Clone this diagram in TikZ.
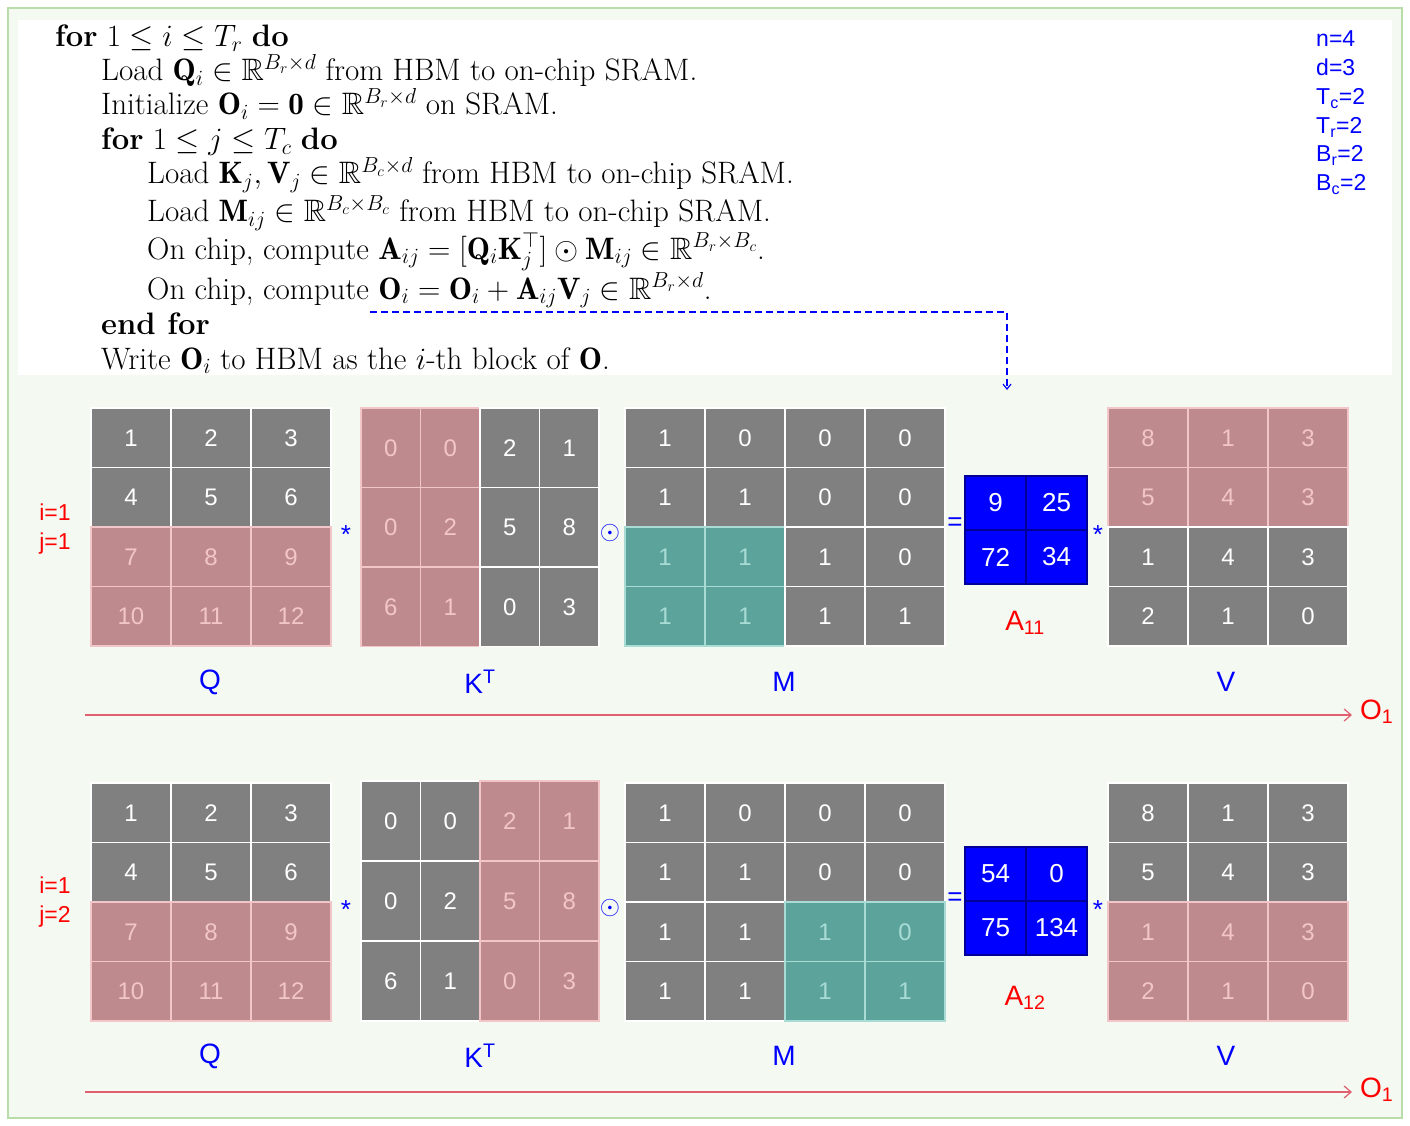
\RequirePackage{fix-cm}
\documentclass[tikz,border=0pt]{standalone}
\usepackage{fontspec}
\usepackage{amsmath,amssymb,bm}
\setsansfont{Liberation Sans}
\definecolor{bggreen}{HTML}{F4F9F1}
\definecolor{edgegreen}{HTML}{B8DDA8}
\definecolor{cgray}{HTML}{808080}
\definecolor{cpink}{HTML}{BF8A8E}
\definecolor{cpinktx}{HTML}{F2C6C9}
\definecolor{cteal}{HTML}{5BA39B}
\definecolor{ctealtx}{HTML}{A8DCD4}
\definecolor{cred}{HTML}{FF0000}
\definecolor{carrow}{HTML}{E06070}
\tikzset{
 cell/.style={draw=white,line width=1.5pt,inner sep=0,font=\sffamily\fontsize{24}{24}\selectfont,text=white},
 g/.style={fill=cgray},
 p/.style={fill=cpink,text=cpinktx,draw=cpinktx},
 t/.style={fill=cteal,text=ctealtx,draw=ctealtx},
 bl/.style={fill=blue,draw=blue!60!black,text=white,font=\sffamily\fontsize{26}{26}\selectfont},
 alg/.style={anchor=base west,inner sep=0,font=\fontsize{31}{31}\selectfont},
 par/.style={anchor=base west,inner sep=0,text=blue,font=\sffamily\fontsize{23}{23}\selectfont},
 lab/.style={text=blue,font=\sffamily\fontsize{28}{28}\selectfont},
 op/.style={text=blue,font=\sffamily\fontsize{26}{26}\selectfont,inner sep=0},
 ij/.style={text=cred,font=\sffamily\fontsize{23}{29}\selectfont,inner sep=0,align=left},
 oarrow/.style={draw=carrow,line width=1.2pt,-{Straight Barb[length=7pt,width=12pt]}},
}
\usetikzlibrary{arrows.meta}
\newcommand\mygrid[7]{%
 \foreach \v/\s [count=\k from 0] in {#7}{%
  \pgfmathtruncatemacro\rr{\k/#6}%
  \pgfmathtruncatemacro\cc{mod(\k,#6)}%
  \node[cell,\s,minimum width=#4pt,minimum height=#5pt] (#1-\k) at ({#2+(\cc+0.5)*#4},{#3+(\rr+0.5)*#5}) {\v};
 }}
\begin{document}
\begin{tikzpicture}[x=1pt,y=-1pt]
\useasboundingbox (0,0) rectangle (1410,1126);
\draw[edgegreen,fill=bggreen,line width=1.5pt] (8,8) rectangle (1402,1118);
\fill[white] (18,20) rectangle (1392,375);
% algorithm
\node[alg] (l1) at (55,47) {\textbf{for} $1\le i\le T_r$ \textbf{do}};
\node[alg] (l2) at (101,81) {Load $\mathbf{Q}_i\in\mathbb{R}^{B_r\times d}$ from HBM to on-chip SRAM.};
\node[alg] (l3) at (101,115) {Initialize $\mathbf{O}_i=\mathbf{0}\in\mathbb{R}^{B_r\times d}$ on SRAM.};
\node[alg] (l4) at (101,150) {\textbf{for} $1\le j\le T_c$ \textbf{do}};
\node[alg] (l5) at (147,184) {Load $\mathbf{K}_j,\mathbf{V}_j\in\mathbb{R}^{B_c\times d}$ from HBM to on-chip SRAM.};
\node[alg] (l6) at (147,222) {Load $\mathbf{M}_{ij}\in\mathbb{R}^{B_c\times B_c}$ from HBM to on-chip SRAM.};
\node[alg] (l7) at (147,259) {On chip, compute $\mathbf{A}_{ij}=[\mathbf{Q}_i\mathbf{K}_j^{\top}]\odot\mathbf{M}_{ij}\in\mathbb{R}^{B_r\times B_c}$.};
\node[alg] (l8) at (147,299) {On chip, compute $\mathbf{O}_i=\mathbf{O}_i+\mathbf{A}_{ij}\mathbf{V}_j\in\mathbb{R}^{B_r\times d}$.};
\node[alg] (l9) at (101,334) {\textbf{end for}};
\node[alg] (l10) at (101,369) {Write $\mathbf{O}_i$ to HBM as the $i$-th block of $\mathbf{O}$.};
% params
\node[par] (p1) at (1316,47) {n=4};
\node[par] (p2) at (1316,76) {d=3};
\node[par] (p3) at (1316,105) {T\textsubscript{c}=2};
\node[par] (p4) at (1316,134) {T\textsubscript{r}=2};
\node[par] (p5) at (1316,162) {B\textsubscript{r}=2};
\node[par] (p6) at (1316,191) {B\textsubscript{c}=2};
% row 1
\mygrid{qa}{91}{408}{80}{59.5}{3}{1/g,2/g,3/g,4/g,5/g,6/g,7/p,8/p,9/p,10/p,11/p,12/p}
\mygrid{ka}{361}{408}{59.5}{79.5}{4}{0/p,0/p,2/g,1/g,0/p,2/p,5/g,8/g,6/p,1/p,0/g,3/g}
\mygrid{ma}{625}{408}{80}{59.5}{4}{1/g,0/g,0/g,0/g,1/g,1/g,0/g,0/g,1/t,1/t,1/g,0/g,1/t,1/t,1/g,1/g}
\mygrid{aa}{965}{476}{61}{54}{2}{9/bl,25/bl,72/bl,34/bl}
\mygrid{va}{1108}{408}{80}{59.5}{3}{8/p,1/p,3/p,5/p,4/p,3/p,1/g,4/g,3/g,2/g,1/g,0/g}
\node[ij] (ija) at (55,529) {i=1\\j=1};
\node[op] (o1a) at (346,535) {*};
\node[op] (o2a) at (610,533) {$\odot$};
\node[op] (o3a) at (955,524) {=};
\node[op] (o4a) at (1098,535) {*};
\node[lab] (lqa) at (210,682) {Q};
\node[lab] (lka) at (480,682) {K\textsuperscript{T}};
\node[lab] (lma) at (784,682) {M};
\node[lab] (lva) at (1226,682) {V};
\node[lab,text=cred] (laa) at (1025,623) {A\textsubscript{11}};
\coordinate (sa) at (85,715);
\node[lab,text=cred,anchor=west,inner sep=0] (oa) at (1360,712) {O\textsubscript{1}};
\draw[oarrow] (sa) -- ([xshift=-8pt]sa -| oa.west);
% row 2
\mygrid{qb}{91}{783}{80}{59.5}{3}{1/g,2/g,3/g,4/g,5/g,6/g,7/p,8/p,9/p,10/p,11/p,12/p}
\mygrid{kb}{361}{781}{59.5}{80}{4}{0/g,0/g,2/p,1/p,0/g,2/g,5/p,8/p,6/g,1/g,0/p,3/p}
\mygrid{mb}{625}{783}{80}{59.5}{4}{1/g,0/g,0/g,0/g,1/g,1/g,0/g,0/g,1/g,1/g,1/t,0/t,1/g,1/g,1/t,1/t}
\mygrid{ab}{965}{847}{61}{54}{2}{54/bl,0/bl,75/bl,134/bl}
\mygrid{vb}{1108}{783}{80}{59.5}{3}{8/g,1/g,3/g,5/g,4/g,3/g,1/p,4/p,3/p,2/p,1/p,0/p}
\node[ij] (ijb) at (55,902) {i=1\\j=2};
\node[op] (o1b) at (346,910) {*};
\node[op] (o2b) at (610,908) {$\odot$};
\node[op] (o3b) at (955,899) {=};
\node[op] (o4b) at (1098,910) {*};
\node[lab] (lqb) at (210,1056) {Q};
\node[lab] (lkb) at (480,1056) {K\textsuperscript{T}};
\node[lab] (lmb) at (784,1056) {M};
\node[lab] (lvb) at (1226,1056) {V};
\node[lab,text=cred] (lab2) at (1025,998) {A\textsubscript{12}};
\coordinate (sb) at (85,1092);
\node[lab,text=cred,anchor=west,inner sep=0] (ob) at (1360,1090) {O\textsubscript{1}};
\draw[oarrow] (sb) -- ([xshift=-8pt]sb -| ob.west);
% dashed pointer
\coordinate (da) at (370,312);
\coordinate (db) at (1007,390);
\draw[blue,dash pattern=on 7pt off 4pt,line width=1.2pt,-{Straight Barb[length=5pt,width=8pt]}] (da) -| (db);
\end{tikzpicture}
\end{document}
